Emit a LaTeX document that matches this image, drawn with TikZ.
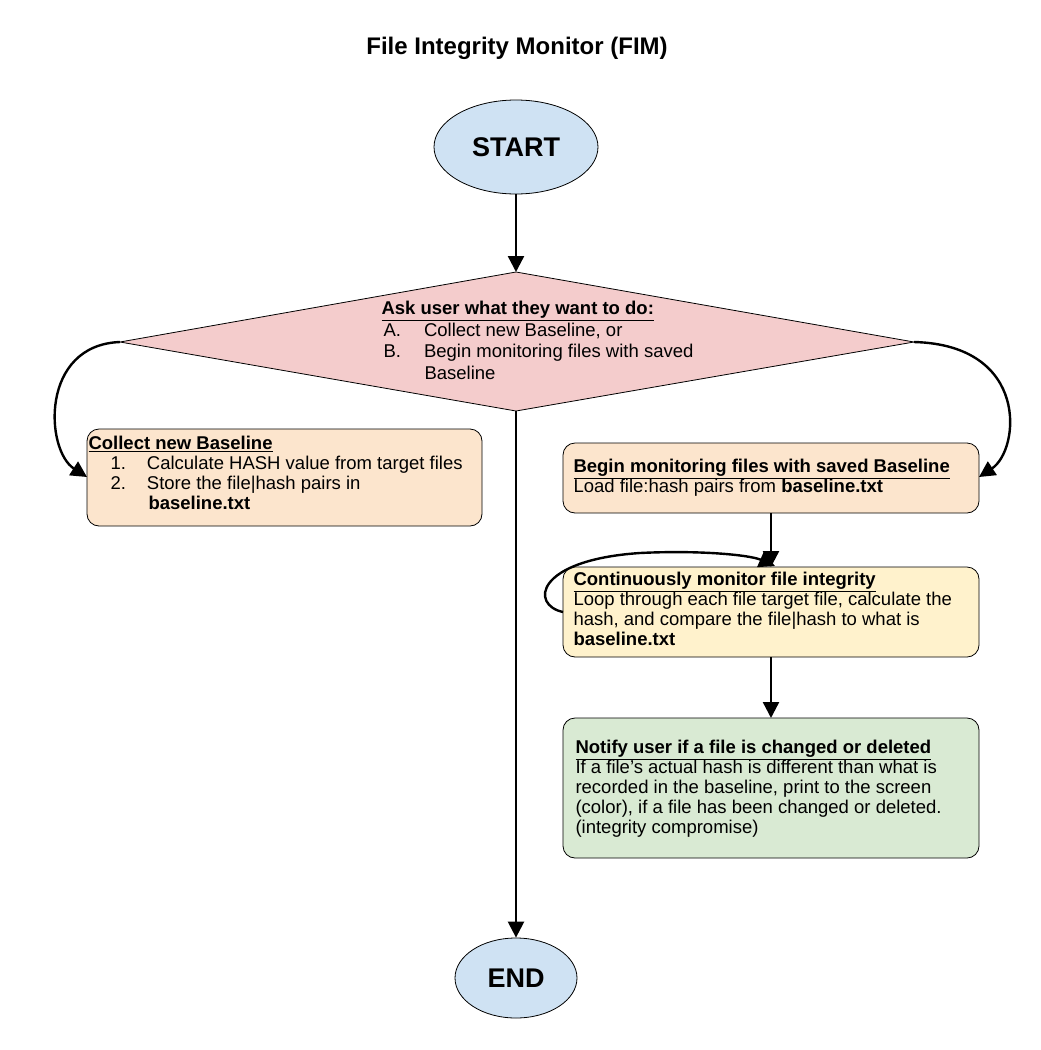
\documentclass[tikz,border=0pt]{standalone}
\usepackage{fontspec}
\setmainfont{Liberation Sans}
\usetikzlibrary{shapes.geometric,arrows.meta}
\definecolor{cblue}{HTML}{CFE2F3}
\definecolor{cred}{HTML}{F4CCCC}
\definecolor{corange}{HTML}{FCE5CD}
\definecolor{cyellow}{HTML}{FFF2CC}
\definecolor{cgreen}{HTML}{D9EAD3}
\begin{document}
\begin{tikzpicture}[x=1pt,y=-1pt,
  txt/.style={font=\fontsize{18.5}{20}\selectfont},
  term/.style={ellipse,draw,line width=0.8pt,fill=cblue,font=\fontsize{27}{30}\selectfont\bfseries},
  box/.style={draw,line width=0.8pt,rounded corners=12pt,txt},
  arr/.style={line width=2.4pt,-{Triangle[length=16pt,width=16pt]}}]
\useasboundingbox (0,0) rectangle (1041,1050);
\node[font=\fontsize{24}{28}\selectfont\bfseries] (title) at (517,48) {File Integrity Monitor (FIM)};
\node[term,minimum width=164pt,minimum height=94pt] (start) at (516,147) {START};
\node[term,minimum width=122pt,minimum height=80pt] (end) at (516,978) {END};
\draw[line width=0.8pt,fill=cred] (516,272) coordinate (dt) -- (914,342) coordinate (dr) -- (516,411) coordinate (db) -- (120,342) coordinate (dl) -- cycle;
\node[txt,align=left,anchor=north west,font=\fontsize{18.5}{21.5}\selectfont] (dtext) at (374,298) {\hspace*{4pt}\textbf{\underline{Ask user what they want to do:}}\\
\hspace*{6pt}A.\hspace{23pt}Collect new Baseline, or\\
\hspace*{6pt}B.\hspace{23pt}Begin monitoring files with saved\\
\hspace*{47pt}Baseline};
\path[box,fill=corange] (87,429) rectangle (482,526);
\coordinate (lb) at (87,477);
\node[txt,align=left,anchor=north west] (lbt) at (85,433) {\textbf{\underline{Collect new Baseline}}\\
\hspace*{22pt}1.\hspace{21pt}Calculate HASH value from target files\\
\hspace*{22pt}2.\hspace{21pt}Store the file|hash pairs in\\
\hspace*{60pt}\textbf{baseline.txt}};
\path[box,fill=corange] (563,443) rectangle (979,513);
\coordinate (b1l) at (979,477); \coordinate (b1b) at (771,513);
\node[txt,align=left,anchor=north west] (b1t) at (570,456) {\textbf{\underline{Begin monitoring files with saved Baseline}}\\
Load file:hash pairs from \textbf{baseline.txt}};
\path[box,fill=cyellow] (563,567) rectangle (979,657);
\coordinate (b2t) at (771,567); \coordinate (b2b) at (771,657); \coordinate (b2l) at (563,612);
\node[txt,align=left,anchor=north west] (b2tx) at (570,569) {\textbf{\underline{Continuously monitor file integrity}}\\
Loop through each file target file, calculate the\\
hash, and compare the file|hash to what is\\
\textbf{baseline.txt}};
\path[box,fill=cgreen] (563,718) rectangle (979,858);
\coordinate (b3t) at (771,718);
\node[txt,align=left,anchor=north west] (b3tx) at (572,737) {\textbf{\underline{Notify user if a file is changed or deleted}}\\
If a file's actual hash is different than what is\\
recorded in the baseline, print to the screen\\
(color), if a file has been changed or deleted.\\
(integrity compromise)};
\draw[arr] (start) -- (dt);
\draw[arr] (db) -- (end);
\draw[arr] (dl) .. controls (40,345) and (45,450) .. (lb);
\draw[arr] (dr) .. controls (1030,345) and (1020,450) .. (b1l);
\draw[arr] (b1b) -- (b2t);
\draw[arr] (b2b) -- (b3t);
\draw[arr] (b2l) .. controls (530,605) and (535,560) .. (640,553) .. controls (700,550) and (750,555) .. (775,566);
\end{tikzpicture}
\end{document}
